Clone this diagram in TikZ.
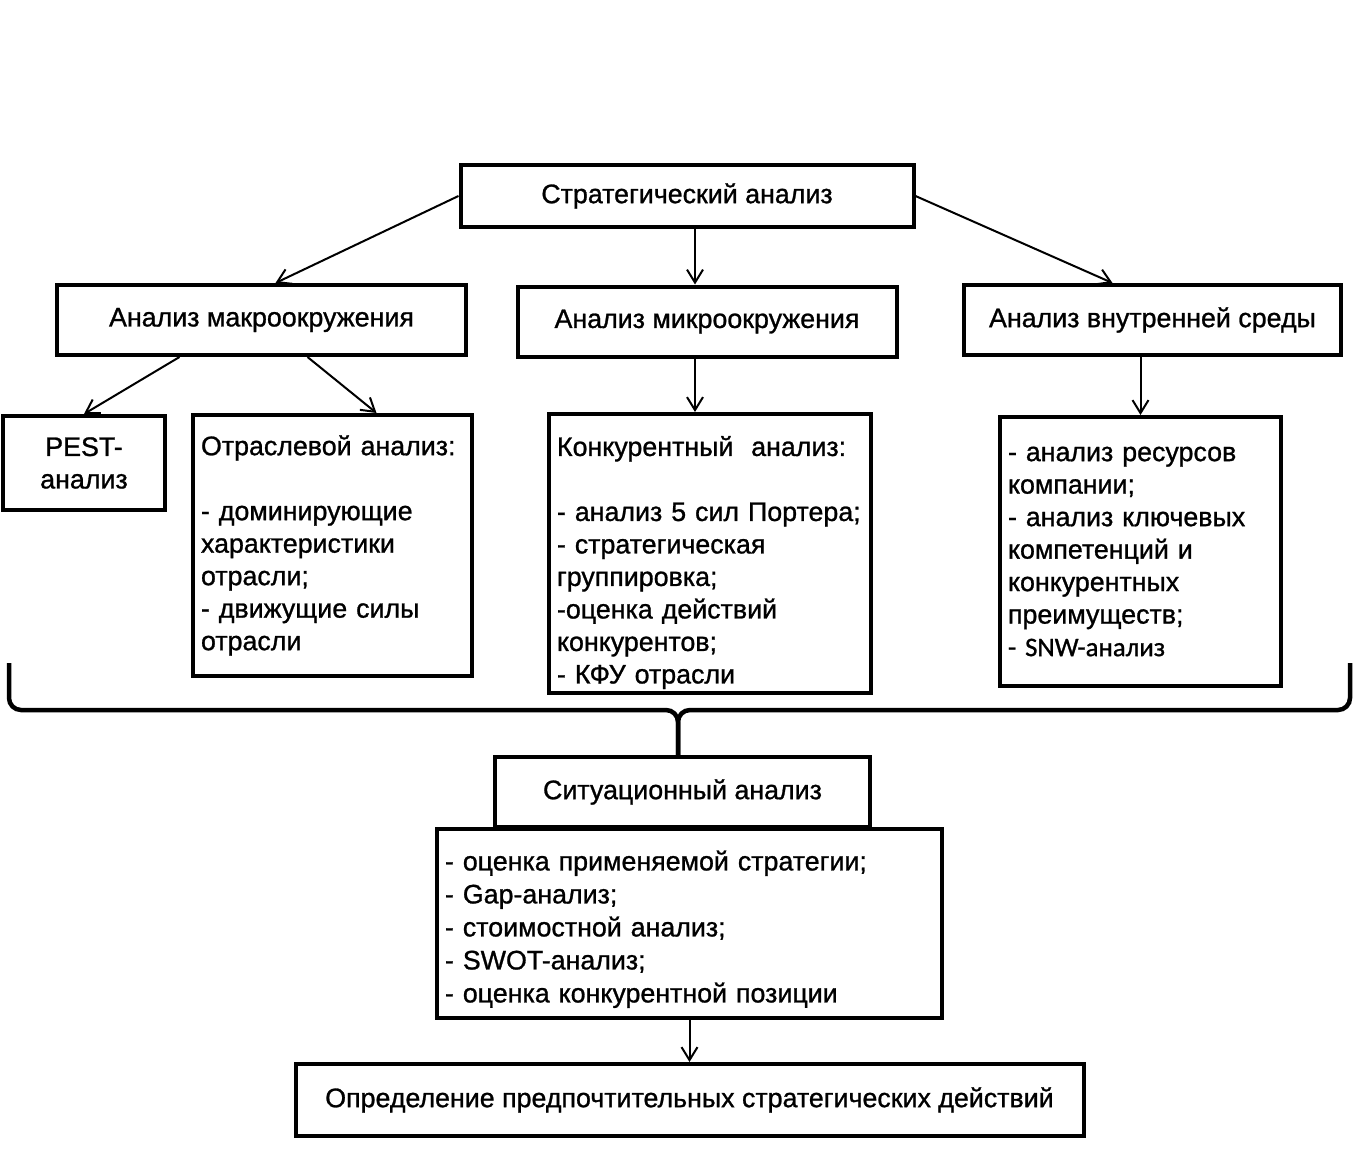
\documentclass[tikz,border=0pt]{standalone}
\usepackage{fontspec}
\setmainfont{Liberation Sans}[FakeBold=1]
\newfontfamily\snwfont{Carlito}[FakeBold=1]
\usetikzlibrary{positioning}
\usetikzlibrary{arrows.meta}
\tikzstyle{B} = [rectangle,draw=black,line width=2pt,inner xsep=4pt,font=\fontsize{13.4}{16.25}\selectfont]
\tikzstyle{C} = [B,align=center]
\tikzstyle{L} = [B,align=left,inner ysep=0pt]
\tikzstyle{E} = [->,line width=1pt]
\tikzset{>={Straight Barb[length=6.5pt,width=8pt]}}

\begin{document}
\begin{tikzpicture}[x=0.5pt,y=-0.5pt]
  \useasboundingbox (0,0) rectangle (1355,1172);

  \node [C,minimum width=226.5pt,minimum height=31pt] (n1) at (687,196) {Стратегический анализ};
  \node [C,minimum width=204.5pt,minimum height=35pt] (n2) at (261.5,320) {Анализ макроокружения};
  \node [C,minimum width=189.5pt,minimum height=35pt] (n3) at (707,321.5) {Анализ микроокружения};
  \node [C,minimum width=188.5pt,minimum height=35pt] (n4) at (1152.5,320) {Анализ внутренней среды};

  \node [C,minimum width=81pt,minimum height=47pt] (n5) at (84,463) {PEST-\\анализ};
  \node [L,text width=131.5pt,minimum height=130.5pt] (n6) at (332.5,545.5) {Отраслевой анализ:\\[16.25pt]- доминирующие\\характеристики\\отрасли;\\- движущие силы\\отрасли};
  \node [L,text width=153pt,minimum height=139.5pt] (n7) at (710,553.5) {\rule{0pt}{19pt}Конкурентный\ \ анализ:\\[16.25pt]- анализ 5 сил Портера;\\- стратегическая\\группировка;\\-оценка действий\\конкурентов;\\- КФУ отрасли};
  \node [L,text width=132.5pt,minimum height=134.5pt] (n8) at (1140.5,551.5) {- анализ ресурсов\\компании;\\- анализ ключевых\\компетенций и\\конкурентных\\преимуществ;\\{\snwfont - SNW-анализ}};

  \draw [E] (n1.west) -- ([xshift=7pt]n2.north);
  \draw [E] ([xshift=4pt]n1.south) -- ([xshift=4pt]n1.south |- n3.north);
  \draw [E] (n1.east) -- ([xshift=-20pt]n4.north);
  \draw [E] ([xshift=-41pt]n2.south) -- (n5.north);
  \draw [E] ([xshift=23pt]n2.south) -- ([xshift=22pt]n6.north);
  \draw [E] ([xshift=-6pt]n3.south) -- ([xshift=-6pt]n3.south |- n7.north);
  \draw [E] (n8.north |- n4.south) -- (n8.north);

  \node [C,minimum width=187.5pt,minimum height=35pt] (n9) at (682.5,792) {Ситуационный анализ};
  \node [L,below=-1pt of n9,xshift=3.5pt,text width=244.5pt,minimum height=94.5pt,font=\fontsize{13.4}{16.5}\selectfont] (n10) {\rule{0pt}{15.7pt}- оценка применяемой стратегии;\\- Gap-анализ;\\- стоимостной анализ;\\- SWOT-анализ;\\- оценка конкурентной позиции};
  \node [C,below=21pt of n10,minimum width=394pt,minimum height=36pt] (n11) {Определение предпочтительных стратегических действий};
  \draw [E] (n10.south) -- (n10.south |- n11.north);

  % brace
  \coordinate (b1) at (9,663);
  \coordinate (b2) at (1350,663);
  \coordinate (b3) at (678,710);
  \draw [line width=2.25pt,rounded corners=6pt] (b1) |- (b3) -- (b3 |- n9.north);
  \draw [line width=2.25pt,rounded corners=6pt] (b2) |- (b3) -- (b3 |- n9.north);
\end{tikzpicture}
\end{document}
